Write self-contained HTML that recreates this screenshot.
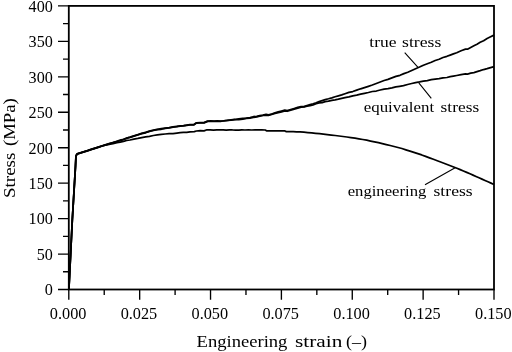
<!DOCTYPE html>
<html lang="en">
<head>
<meta charset="utf-8">
<title>Stress–strain curves</title>
<style>
html,body{margin:0;padding:0;background:#fff;}
body{width:512px;height:352px;overflow:hidden;}
svg{display:block;}
svg text{font-family:"Liberation Serif",serif;fill:#000;}
</style>
</head>
<body>
<svg width="512" height="352" viewBox="0 0 512 352">
<rect x="0" y="0" width="512" height="352" fill="#fff"/>
<rect x="68.8" y="5.9" width="425.2" height="283.6" fill="none" stroke="#000" stroke-width="1.8"/>
<path d="M68.8,289.50h-10.8 M68.8,271.77h-5.8 M68.8,254.05h-10.8 M68.8,236.32h-5.8 M68.8,218.60h-10.8 M68.8,200.88h-5.8 M68.8,183.15h-10.8 M68.8,165.42h-5.8 M68.8,147.70h-10.8 M68.8,129.97h-5.8 M68.8,112.25h-10.8 M68.8,94.53h-5.8 M68.8,76.80h-10.8 M68.8,59.07h-5.8 M68.8,41.35h-10.8 M68.8,23.62h-5.8 M68.8,5.90h-10.8 M68.80,289.5v10.3 M104.23,289.5v5.6 M139.67,289.5v10.3 M175.10,289.5v5.6 M210.53,289.5v10.3 M245.97,289.5v5.6 M281.40,289.5v10.3 M316.83,289.5v5.6 M352.27,289.5v10.3 M387.70,289.5v5.6 M423.13,289.5v10.3 M458.57,289.5v5.6 M494.00,289.5v10.3" fill="none" stroke="#000" stroke-width="1.35"/>
<text x="52.8" y="295.30" text-anchor="end" font-size="16" textLength="8.1" lengthAdjust="spacingAndGlyphs">0</text>
<text x="52.8" y="259.85" text-anchor="end" font-size="16" textLength="16.1" lengthAdjust="spacingAndGlyphs">50</text>
<text x="52.8" y="224.40" text-anchor="end" font-size="16" textLength="24.2" lengthAdjust="spacingAndGlyphs">100</text>
<text x="52.8" y="188.95" text-anchor="end" font-size="16" textLength="24.2" lengthAdjust="spacingAndGlyphs">150</text>
<text x="52.8" y="153.50" text-anchor="end" font-size="16" textLength="24.2" lengthAdjust="spacingAndGlyphs">200</text>
<text x="52.8" y="118.05" text-anchor="end" font-size="16" textLength="24.2" lengthAdjust="spacingAndGlyphs">250</text>
<text x="52.8" y="82.60" text-anchor="end" font-size="16" textLength="24.2" lengthAdjust="spacingAndGlyphs">300</text>
<text x="52.8" y="47.15" text-anchor="end" font-size="16" textLength="24.2" lengthAdjust="spacingAndGlyphs">350</text>
<text x="52.8" y="11.70" text-anchor="end" font-size="16" textLength="24.2" lengthAdjust="spacingAndGlyphs">400</text>
<text x="68.10" y="319.0" text-anchor="middle" font-size="16" textLength="36.6" lengthAdjust="spacingAndGlyphs">0.000</text>
<text x="138.97" y="319.0" text-anchor="middle" font-size="16" textLength="36.6" lengthAdjust="spacingAndGlyphs">0.025</text>
<text x="209.83" y="319.0" text-anchor="middle" font-size="16" textLength="36.6" lengthAdjust="spacingAndGlyphs">0.050</text>
<text x="280.70" y="319.0" text-anchor="middle" font-size="16" textLength="36.6" lengthAdjust="spacingAndGlyphs">0.075</text>
<text x="351.57" y="319.0" text-anchor="middle" font-size="16" textLength="36.6" lengthAdjust="spacingAndGlyphs">0.100</text>
<text x="422.43" y="319.0" text-anchor="middle" font-size="16" textLength="36.6" lengthAdjust="spacingAndGlyphs">0.125</text>
<text x="493.30" y="319.0" text-anchor="middle" font-size="16" textLength="36.6" lengthAdjust="spacingAndGlyphs">0.150</text>
<g><text x="196.6" y="347.0" font-size="17.5" textLength="90.8" lengthAdjust="spacingAndGlyphs">Engineering</text><text x="295.0" y="347.0" font-size="17.5" textLength="47.3" lengthAdjust="spacingAndGlyphs">strain</text><text x="346.0" y="347.0" font-size="17.5" textLength="21.0" lengthAdjust="spacingAndGlyphs">(–)</text></g>
<g transform="translate(15.2,0) rotate(-90)"><text x="-198.0" y="0" font-size="17.5" textLength="45.4" lengthAdjust="spacingAndGlyphs">Stress</text><text x="-146.0" y="0" font-size="17.5" textLength="47.8" lengthAdjust="spacingAndGlyphs">(MPa)</text></g>
<g><text x="369.3" y="46.9" font-size="15.5" textLength="27.2" lengthAdjust="spacingAndGlyphs">true</text><text x="402.0" y="46.9" font-size="15.5" textLength="39.3" lengthAdjust="spacingAndGlyphs">stress</text></g>
<g><text x="363.7" y="112.2" font-size="15.5" textLength="70.4" lengthAdjust="spacingAndGlyphs">equivalent</text><text x="440.6" y="112.2" font-size="15.5" textLength="38.6" lengthAdjust="spacingAndGlyphs">stress</text></g>
<g><text x="347.7" y="195.7" font-size="15.5" textLength="78.6" lengthAdjust="spacingAndGlyphs">engineering</text><text x="433.5" y="195.7" font-size="15.5" textLength="39.2" lengthAdjust="spacingAndGlyphs">stress</text></g>
<path d="M404.7,52.6L417.8,67.2 M418.8,82.8L431.3,98.4 M425,184.7L455.6,167.6" fill="none" stroke="#000" stroke-width="1.1"/>
<path d="M68.9,289.50 L72.3,220.00 L75.5,166.00 L75.9,157.50 L76.3,155.20 L77.3,153.90 L87.6,150.60 L91.8,149.06 L96.0,147.90 L99.1,147.09 L102.1,146.01 L105.2,145.10 L109.1,144.40 L113.0,143.71 L116.9,142.70 L120.2,142.04 L123.5,141.35 L126.7,140.49 L130.0,140.00 L133.9,139.10 L137.8,138.40 L141.7,137.60 L145.6,136.98 L149.5,136.33 L153.4,135.50 L157.3,134.95 L161.3,134.31 L165.2,134.00 L169.1,133.61 L173.0,133.58 L176.9,133.10 L180.2,132.65 L183.4,132.43 L186.7,132.31 L190.0,131.80 L194.3,131.70 L196.4,131.00 L200.2,130.74 L204.0,130.90 L207.0,129.80 L210.2,129.87 L213.5,130.05 L216.8,129.76 L220.0,129.90 L223.1,129.93 L226.2,130.11 L229.4,129.78 L232.5,129.96 L235.6,130.07 L238.8,130.05 L241.9,129.97 L245.0,130.00 L248.4,129.87 L251.7,130.00 L255.1,129.94 L258.5,129.99 L261.8,129.94 L265.2,130.00 L266.5,130.80 L269.6,130.97 L272.7,130.95 L275.8,130.77 L278.8,130.90 L281.9,130.78 L285.0,130.90 L286.4,131.70 L289.8,131.70 L293.2,131.69 L296.6,131.84 L300.0,131.80 L303.9,132.17 L307.8,132.53 L311.7,132.90 L315.6,133.28 L319.5,133.67 L323.4,134.05 L327.3,134.53 L331.3,135.02 L335.2,135.50 L339.1,136.00 L343.0,136.50 L346.9,137.00 L350.9,137.55 L355.0,138.10 L358.9,138.80 L362.8,139.50 L366.7,140.20 L370.6,141.02 L374.5,141.83 L378.4,142.65 L382.3,143.60 L386.3,144.55 L390.2,145.50 L394.1,146.50 L398.0,147.50 L401.9,148.50 L405.9,149.80 L410.0,151.10 L413.9,152.38 L417.8,153.67 L421.7,154.95 L425.6,156.40 L429.5,157.85 L433.4,159.30 L437.3,160.77 L441.3,162.23 L445.2,163.70 L449.1,165.23 L453.0,166.77 L456.9,168.30 L460.2,169.68 L463.4,171.05 L466.7,172.43 L470.0,173.80 L473.0,175.14 L476.0,176.48 L479.0,177.81 L482.0,179.15 L485.0,180.49 L488.0,181.82 L491.0,183.16 L494.0,184.50" fill="none" stroke="#000" stroke-width="1.75" stroke-linejoin="round"/>
<path d="M68.9,289.50 L72.3,220.00 L75.5,166.00 L75.9,157.50 L76.3,155.20 L77.3,153.90 L87.6,150.50 L91.8,149.09 L96.0,147.80 L99.1,146.78 L102.1,145.90 L105.2,144.80 L109.1,143.56 L113.0,142.58 L116.9,141.20 L120.2,140.03 L123.5,139.26 L126.7,138.09 L130.0,137.10 L133.9,135.80 L137.8,134.63 L141.7,133.30 L145.6,132.28 L149.5,131.20 L153.4,130.20 L157.3,129.28 L161.3,128.62 L165.2,128.10 L169.1,127.59 L173.0,126.91 L176.9,126.30 L180.2,125.94 L183.4,125.60 L186.7,125.03 L190.0,124.50 L194.0,124.50 L196.4,122.80 L200.2,122.50 L204.0,122.60 L207.6,121.10 L210.8,120.99 L214.1,121.09 L217.3,120.91 L220.5,121.00 L224.0,120.80 L227.5,120.40 L231.0,119.80 L234.9,119.49 L238.8,118.85 L242.8,118.40 L246.4,118.10 L250.0,117.50 L253.3,116.74 L256.7,116.30 L259.8,115.58 L263.0,115.02 L266.1,114.40 L268.4,114.80 L271.7,113.99 L275.0,112.95 L278.2,111.88 L281.5,111.05 L284.8,110.20 L287.2,110.60 L290.7,109.52 L294.2,108.51 L297.7,107.45 L301.2,106.60 L304.0,106.60 L307.0,105.56 L310.1,104.58 L313.1,103.72 L316.1,102.73 L319.1,101.61 L322.2,100.58 L325.2,99.60 L328.5,98.74 L331.8,97.80 L335.1,96.73 L338.4,95.80 L341.7,94.88 L345.0,93.70 L348.9,92.33 L352.8,91.53 L356.7,90.20 L360.6,88.80 L364.5,87.59 L368.4,86.30 L372.3,85.00 L376.3,83.53 L380.2,82.00 L384.1,80.48 L388.0,79.34 L391.9,77.90 L395.9,76.41 L400.0,75.30 L403.9,73.64 L407.8,72.24 L411.7,70.50 L415.6,68.70 L419.5,67.01 L423.4,65.20 L427.3,63.73 L431.3,62.21 L435.2,60.50 L439.1,59.21 L443.0,57.48 L446.9,56.30 L450.2,55.06 L453.4,53.88 L456.7,52.70 L461.1,50.70 L465.5,49.10 L467.5,49.20 L470.7,47.49 L473.9,45.80 L477.0,44.17 L480.2,42.30 L483.6,40.69 L487.1,38.54 L490.6,36.78 L494.0,35.10" fill="none" stroke="#000" stroke-width="1.75" stroke-linejoin="round"/>
<path d="M68.9,289.50 L72.3,220.00 L75.5,166.00 L75.9,157.50 L76.3,155.20 L77.3,153.90 L87.6,150.80 L91.8,149.52 L96.0,148.10 L99.1,146.94 L102.1,145.98 L105.2,145.10 L109.1,143.93 L113.0,142.55 L116.9,141.50 L120.2,140.60 L123.5,139.61 L126.7,138.22 L130.0,137.40 L133.9,136.15 L137.8,135.00 L141.7,133.60 L145.6,132.78 L149.5,131.43 L153.4,130.50 L157.3,129.65 L161.3,129.27 L165.2,128.40 L169.1,127.98 L173.0,127.07 L176.9,126.60 L180.2,126.12 L183.4,125.80 L186.7,125.40 L190.0,124.80 L194.0,124.80 L196.4,123.10 L200.2,122.85 L204.0,122.90 L207.6,121.40 L210.8,121.45 L214.1,121.49 L217.3,121.35 L220.5,121.30 L224.0,120.75 L227.5,120.30 L231.0,120.10 L234.9,119.65 L238.8,119.54 L242.8,119.05 L246.4,118.40 L250.0,118.15 L253.3,117.33 L256.7,116.95 L259.8,116.26 L263.0,115.49 L266.1,115.05 L268.4,115.45 L271.7,114.38 L275.0,113.40 L278.2,112.70 L281.5,111.86 L284.8,110.85 L287.2,111.25 L290.7,110.22 L294.2,109.09 L297.7,108.18 L301.2,107.25 L304.0,106.80 L307.0,106.11 L310.1,105.54 L313.1,104.83 L316.1,103.77 L319.1,102.94 L322.2,102.57 L325.2,101.70 L328.5,101.20 L331.8,100.32 L335.1,99.77 L338.4,99.13 L341.7,98.33 L345.0,97.60 L348.9,96.96 L352.8,95.79 L356.7,95.20 L360.6,94.20 L364.5,93.30 L368.4,92.50 L372.3,91.50 L376.3,91.01 L380.2,90.00 L384.1,89.06 L388.0,88.61 L391.9,87.80 L395.8,86.88 L399.6,86.27 L403.5,85.60 L407.6,84.51 L411.7,83.50 L415.6,82.59 L419.5,81.98 L423.4,81.20 L427.3,80.52 L431.3,79.72 L435.2,79.10 L439.1,78.67 L443.0,77.88 L446.9,77.50 L450.2,76.70 L453.4,76.10 L456.7,75.50 L461.1,74.65 L465.5,73.90 L467.5,74.10 L470.7,73.12 L473.9,72.58 L477.0,71.69 L480.2,70.70 L483.6,69.53 L487.1,68.64 L490.6,67.58 L494.0,66.70" fill="none" stroke="#000" stroke-width="1.75" stroke-linejoin="round"/>
</svg>
</body>
</html>
